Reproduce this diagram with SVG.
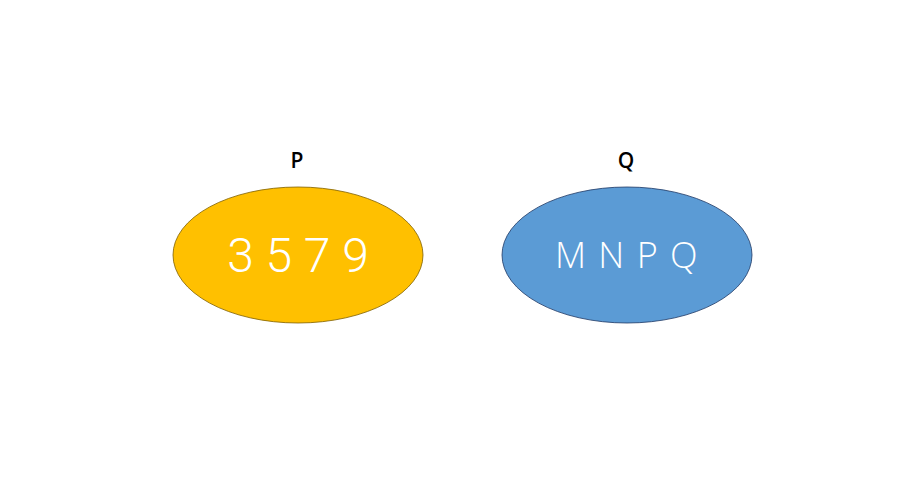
<svg xmlns="http://www.w3.org/2000/svg" width="917" height="502" viewBox="0 0 917 502">
<style>
.lbl{font-family:"Open Sans","Noto Sans",sans-serif;font-size:21px;font-weight:600;fill:#000;text-anchor:middle}
.inner{font-family:"Open Sans","Noto Sans",sans-serif;font-weight:300;fill:#fff;text-anchor:middle}
.digits{font-family:Roboto,"Open Sans",sans-serif;font-size:48px}
</style>
<rect width="917" height="502" fill="#fff"/>
<g id="nodeP">
<text class="lbl" x="297" y="168">P</text>
<ellipse cx="298" cy="255" rx="125" ry="68" fill="#FFC000" stroke="#7F6000" stroke-width="0.8"/>
<text class="inner digits" x="298" y="272">3 5 7 9</text>
</g>
<g id="nodeQ">
<text class="lbl" x="626" y="168">Q</text>
<ellipse cx="627" cy="255" rx="125" ry="68" fill="#5B9BD5" stroke="#1F3864" stroke-width="0.8"/>
<text class="inner" x="627" y="268" font-size="36" letter-spacing="1.5">M N P Q</text>
</g>
<g id="connectors"></g>
</svg>
